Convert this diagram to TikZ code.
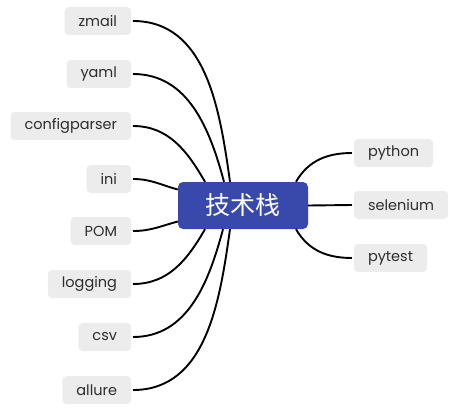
\documentclass[tikz,border=0pt]{standalone}
\usepackage{fontspec}
\newfontfamily\leaffont{Poppins}
\newfontfamily\cjk{Noto Sans CJK SC}
\definecolor{rootblue}{RGB}{57,73,171}
\definecolor{leafgray}{RGB}{236,236,236}
\definecolor{leaftext}{RGB}{45,45,45}
\begin{document}
\begin{tikzpicture}[x=1pt,y=-1pt,
  leaf/.style={fill=leafgray,rounded corners=4pt,minimum height=28pt,inner xsep=14pt,inner ysep=0pt,
    outer sep=2pt,text=leaftext,font=\leaffont\fontsize{14.5}{14.5}\selectfont},
  root/.style={fill=rootblue,rounded corners=5pt,minimum width=130pt,minimum height=47pt,inner sep=0pt,
    text=white,font=\cjk\fontsize{25}{25}\selectfont},
  branch/.style={black,line width=1.9pt}]
\useasboundingbox (0,0) rectangle (474,412);
\node [root] (stack) at (243,205.5) {技术栈};
\node [leaf,anchor=east] (zmail) at (133,21) {zmail};
\node [leaf,anchor=east] (yaml) at (133,74) {yaml};
\node [leaf,anchor=east] (configparser) at (133,126) {configparser};
\node [leaf,anchor=east] (ini) at (133,179) {ini};
\node [leaf,anchor=east] (pom) at (133,231) {POM};
\node [leaf,anchor=east] (logging) at (133,284) {logging};
\node [leaf,anchor=east] (csv) at (133,337) {csv};
\node [leaf,anchor=east] (allure) at (133,390) {allure};
\node [leaf,anchor=west] (python) at (352,153) {python};
\node [leaf,anchor=west] (selenium) at (352,205) {selenium};
\node [leaf,anchor=west] (pytest) at (352,258) {pytest};
\draw [branch] (zmail.east) to[out=0,in=98] ([xshift=-13pt]stack.north);
\draw [branch] (yaml.east) to[out=0,in=105] ([xshift=-19pt]stack.north);
\draw [branch] (configparser.east) to[out=0,in=120] ([xshift=-38pt]stack.north);
\draw [branch] (ini.east) to[out=0,in=165] ([yshift=16pt]stack.west);
\draw [branch] (pom.east) to[out=0,in=195] ([yshift=-16pt]stack.west);
\draw [branch] (logging.east) to[out=0,in=240] ([xshift=-38pt]stack.south);
\draw [branch] (csv.east) to[out=0,in=255] ([xshift=-20pt]stack.south);
\draw [branch] (allure.east) to[out=0,in=262] ([xshift=-13pt]stack.south);
\draw [branch] ([xshift=53pt]stack.north) to[out=60,in=180] (python.west);
\draw [branch] (stack.east) -- (selenium.west);
\draw [branch] ([xshift=53pt]stack.south) to[out=-60,in=180] (pytest.west);
\end{tikzpicture}
\end{document}
